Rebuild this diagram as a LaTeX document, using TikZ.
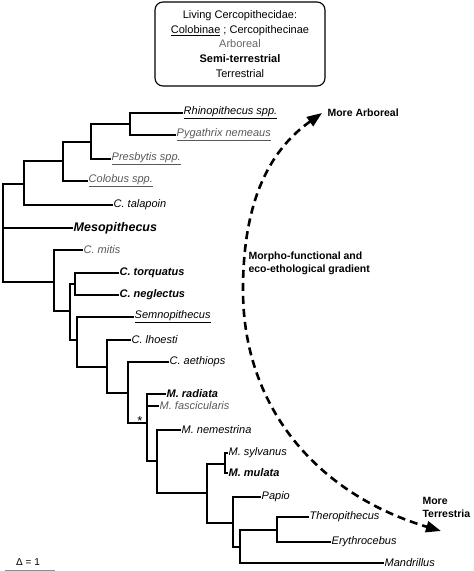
\documentclass[tikz,border=0pt]{standalone}
\usepackage{fontspec}
\setmainfont{Liberation Sans}
\usetikzlibrary{arrows.meta}
\begin{document}
\begin{tikzpicture}[x=1pt,y=-1pt,
  branch/.style={line width=1.8pt, line cap=rect},
  leaf/.style={anchor=west, inner xsep=1.5pt, inner ysep=1pt, font=\itshape\fontsize{11}{12}\selectfont},
  semi/.style={font=\bfseries\itshape\fontsize{11}{12}\selectfont},
  arbo/.style={text=black!65},
  gradient/.style={line width=2.6pt, dash pattern=on 8pt off 5pt, {Triangle[length=15pt,width=11pt]}-{Triangle[length=15pt,width=11pt]}},
  boldlab/.style={anchor=west, align=left, font=\bfseries\fontsize{10.5}{13}\selectfont}
]
\useasboundingbox (0,0) rectangle (474,571);

% legend
\node[draw, rounded corners=8pt, line width=1.1pt, minimum width=170pt, minimum height=84pt, align=center,
      font=\fontsize{11}{14.6}\selectfont] (legend) at (240,44)
  {Living Cercopithecidae:\\ \underline{Colobinae} ; Cercopithecinae\\ {\color{black!60}Arboreal}\\ \textbf{Semi-terrestrial}\\ Terrestrial};

% internal nodes
\coordinate (r) at (3,233);
\coordinate (c1) at (24,184);
\coordinate (c2) at (63,161);
\coordinate (c3) at (91,142);
\coordinate (c4) at (130,124);
\coordinate (k1) at (54,282);
\coordinate (k2) at (70,311);
\coordinate (k3) at (75,284);
\coordinate (k4) at (77,340);
\coordinate (k5) at (107,367);
\coordinate (k6) at (128,393);
\coordinate (k7) at (147,423);
\coordinate (k8) at (157,461);
\coordinate (k9) at (207,493);
\coordinate (k10) at (225,464);
\coordinate (k11) at (233,523);
\coordinate (k12) at (240,547);
\coordinate (k13) at (277,530);

% leaves
\node[leaf] (rhino) at (182,113) {\underline{Rhinopithecus spp.}};
\node[leaf,arbo] (pyga) at (175,135) {\underline{Pygathrix nemeaus}};
\node[leaf,arbo] (presb) at (110,159) {\underline{Presbytis spp.}};
\node[leaf,arbo] (colob) at (87,181) {\underline{Colobus spp.}};
\node[leaf] (talap) at (112,205) {C. talapoin};
\node[leaf, font=\bfseries\itshape\fontsize{12.5}{14}\selectfont] (meso) at (72,228) {Mesopithecus};
\node[leaf,arbo] (mitis) at (82,250) {C. mitis};
\node[leaf,semi] (torq) at (118,273) {C. torquatus};
\node[leaf,semi] (negl) at (118,295) {C. neglectus};
\node[leaf] (semno) at (133,317) {\underline{Semnopithecus}};
\node[leaf] (lhoe) at (130,340) {C. lhoesti};
\node[leaf] (aeth) at (168,362) {C. aethiops};
\node[leaf,semi] (radi) at (165,394) {M. radiata};
\node[leaf,arbo] (fasc) at (158,406) {M. fascicularis};
\node[leaf] (neme) at (180,430) {M. nemestrina};
\node[leaf] (sylv) at (227,453) {M. sylvanus};
\node[leaf,semi] (mula) at (227,473) {M. mulata};
\node[leaf] (papio) at (260,497) {Papio};
\node[leaf] (thero) at (308,517) {Theropithecus};
\node[leaf] (eryth) at (330,542) {Erythrocebus};
\node[leaf] (mandr) at (383,563) {Mandrillus};

% branches
\draw[branch] (r) |- (c1);
\draw[branch] (r) |- (meso.west);
\draw[branch] (r) |- (k1);
\draw[branch] (c1) |- (c2);
\draw[branch] (c1) |- (talap.west);
\draw[branch] (c2) |- (c3);
\draw[branch] (c2) |- (colob.west);
\draw[branch] (c3) |- (c4);
\draw[branch] (c3) |- (presb.west);
\draw[branch] (c4) |- (rhino.west);
\draw[branch] (c4) |- (pyga.west);
\draw[branch] (k1) |- (mitis.west);
\draw[branch] (k1) |- (k2);
\draw[branch] (k2) |- (k3);
\draw[branch] (k2) |- (k4);
\draw[branch] (k3) |- (torq.west);
\draw[branch] (k3) |- (negl.west);
\draw[branch] (k4) |- (semno.west);
\draw[branch] (k4) |- (k5);
\draw[branch] (k5) |- (lhoe.west);
\draw[branch] (k5) |- (k6);
\draw[branch] (k6) |- (aeth.west);
\draw[branch] (k6) |- (k7);
\draw[branch] (k7) |- (radi.west);
\draw[branch] (k7) |- (fasc.west);
\draw[branch] (k7) |- (k8);
\draw[branch] (k8) |- (neme.west);
\draw[branch] (k8) |- (k9);
\draw[branch] (k9) |- (k10);
\draw[branch] (k9) |- (k11);
\draw[branch] (k10) |- (sylv.west);
\draw[branch] (k10) |- (mula.west);
\draw[branch] (k11) |- (papio.west);
\draw[branch] (k11) |- (k12);
\draw[branch] (k12) |- (k13);
\draw[branch] (k12) |- (mandr.west);
\draw[branch] (k13) |- (thero.west);
\draw[branch] (k13) |- (eryth.west);

\node[font=\fontsize{13}{14}\selectfont] (star) at (140,421) {*};

% gradient arrow
\coordinate (aTop) at (322,113);
\coordinate (aMid) at (243,290);
\coordinate (aBot) at (441,531);
\draw[gradient] (aTop) .. controls (270,150) and (243,200) .. (aMid)
                       .. controls (243,410) and (320,495) .. (aBot);
\node[boldlab] (arbl) at (324,113) {More Arboreal};
\node[boldlab] (gradl) at (245,263) {Morpho-functional and\\eco-ethological gradient};
\node[boldlab] (terl) at (419,507) {More\\Terrestria};

% scale bar
\node[font=\fontsize{10}{11}\selectfont] (scalel) at (28,562) {Δ = 1};
\coordinate (sb1) at (5,570);
\coordinate (sb2) at (55,570);
\draw[black!45, line width=1pt] (sb1) -- (sb2);
\end{tikzpicture}
\end{document}
